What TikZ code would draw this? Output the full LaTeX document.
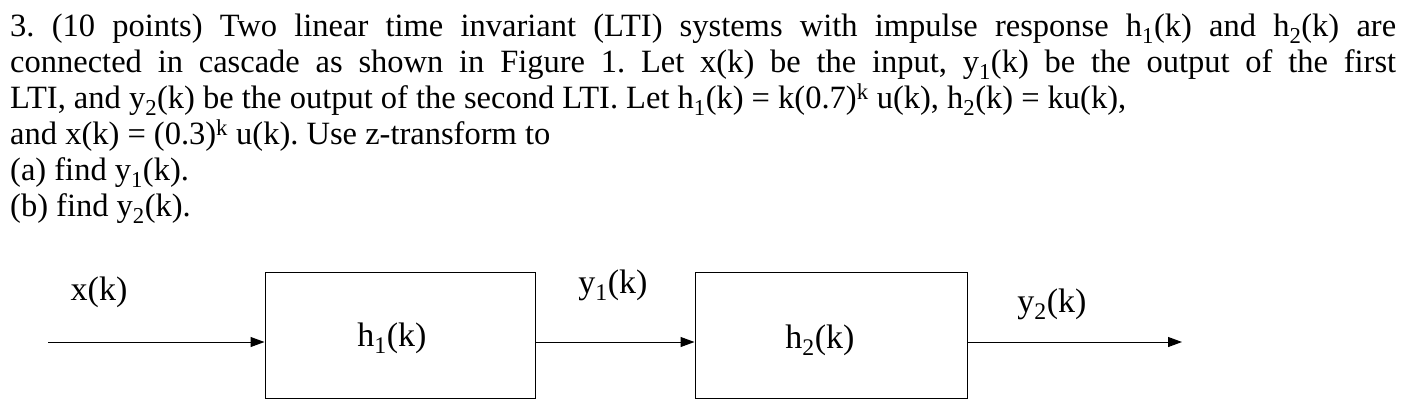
\documentclass[tikz,border=0pt]{standalone}
\usepackage{fontspec}
\setmainfont{Liberation Serif}
\usetikzlibrary{arrows.meta}
\newcommand{\sbs}[1]{\textsubscript{#1}}
\newcommand{\sps}[1]{\textsuperscript{#1}}
\tikzset{lbl/.style={inner sep=0pt,font=\fontsize{34}{36}\selectfont},
txtstyle/.style={inner sep=0pt,font=\fontsize{32.5}{36}\selectfont\frenchspacing},
blk/.style={draw,line width=1pt,inner sep=0pt},
sig/.style={line width=1pt,-{Triangle[length=14pt,width=10pt]}}}
\begin{document}
\begin{tikzpicture}[x=1pt,y=-1pt]
\useasboundingbox (0,0) rectangle (1410,416);
\node[txtstyle,anchor=north west,align=justify,text width=1386pt] (txt) at (10,14) {3. (10 points) Two linear time invariant (LTI) systems with impulse response h\sbs{1}(k) and h\sbs{2}(k) are\linebreak connected in cascade as shown in Figure 1. Let x(k) be the input, y\sbs{1}(k) be the output of the first\linebreak LTI, and y\sbs{2}(k) be the output of the second LTI. Let h\sbs{1}(k) = k(0.7)\sps{k} u(k), h\sbs{2}(k) = ku(k),\\ and x(k) = (0.3)\sps{k} u(k). Use z-transform to\\ (a) find y\sbs{1}(k).\\ (b) find y\sbs{2}(k).};
\node[blk,minimum width=270pt,minimum height=126pt] (b1) at (400,335) {};
\node[blk,minimum width=272pt,minimum height=126pt] (b2) at (831,335) {};
\node[lbl] (h1) at (392,338) {h\sbs{1}(k)};
\node[lbl] (h2) at (820,340) {h\sbs{2}(k)};
\node[lbl] (x) at (99,292) {x(k)};
\node[lbl] (y1) at (613,285) {y\sbs{1}(k)};
\node[lbl] (y2) at (1052,304) {y\sbs{2}(k)};
\coordinate (in) at (48,342);
\coordinate (out) at (1182,342);
\draw[sig] (in) -- (in -| b1.west);
\draw[sig] (b1.east |- in) -- (b2.west |- in);
\draw[sig] (b2.east |- in) -- (out);
\end{tikzpicture}
\end{document}
